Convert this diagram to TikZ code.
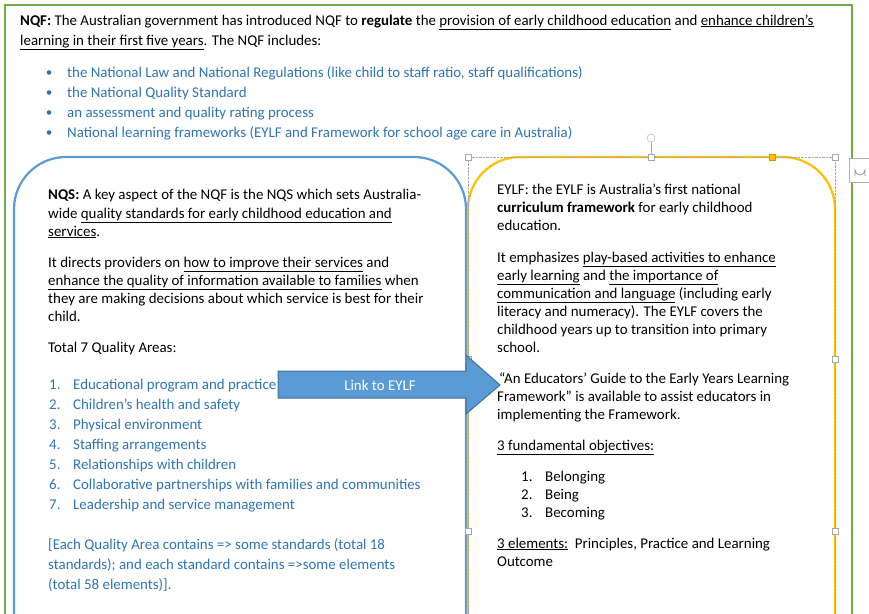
\documentclass[tikz,border=0pt]{standalone}
\usepackage{fontspec}
\setmainfont{Carlito}
\definecolor{tblue}{HTML}{2E74B5}
\definecolor{abox}{HTML}{5B9BD5}
\definecolor{aedge}{HTML}{41719C}
\definecolor{gframe}{HTML}{70AD47}
\definecolor{ybox}{HTML}{FFC000}
\newcommand{\ul}[1]{\underline{#1}}
\begin{document}
\begin{tikzpicture}[x=1pt,y=-1pt,
  t/.style={anchor=base west,inner sep=0pt,font=\fontsize{14.9}{17}\selectfont},
  tb/.style={t,text=tblue},
  hnd/.style={draw=gray!70,fill=white,minimum size=6pt,inner sep=0pt}]
\useasboundingbox (0,0) rectangle (869,613);
\draw[gframe,line width=2pt] (5,620) -- (5,5) -- (852,5) -- (852,620);
% top text
\node[t] (n1) at (20,25) {\textbf{NQF:} The Australian government has introduced NQF to \textbf{regulate} the \ul{provision of early childhood education} and \ul{enhance children’s}};
\node[t] (n2) at (20,45) {\ul{learning in their first five years}. The NQF includes:};
\foreach \y/\s [count=\i] in {77/{the National Law and National Regulations (like child to staff ratio, staff qualifications)},97/{the National Quality Standard},117/{an assessment and quality rating process},137/{National learning frameworks (EYLF and Framework for school age care in Australia)}}{
  \node[tb] (b\i) at (67,\y) {\s};
  \fill[tblue] (49,\y-4.5) circle (2.3);
}
% boxes
\draw[abox,line width=2.2pt,rounded corners=52] (14,625) -- (14,157) -- (466,157) -- (466,625);
\draw[ybox,line width=2.2pt,rounded corners=52] (468,625) -- (468,157) -- (835,157) -- (835,625);
% selection
\draw[gray!70,densely dotted] (468,157) rectangle (835,625);
\draw[gray!70] (651,157) -- (651,142);
\draw[gray!70,fill=white] (651,138) circle (4);
\foreach \p [count=\i] in {(468,157),(651,157),(835,157),(468,359),(835,359),(468,531),(835,531)}
  \node[hnd] (h\i) at \p {};
\node[draw=ybox!80!black,fill=ybox,minimum size=6pt,inner sep=0pt] (yh) at (772,157) {};
\node[draw=gray!60,fill=white,minimum width=22pt,minimum height=24pt,anchor=north west] (lay) at (849,158) {};
\draw[gray!80,thick] (855,176) -- (855,170) arc (180:0:5) -- (865,176);
% left text
\node[t] (l1) at (48,199) {\textbf{NQS:} A key aspect of the NQF is the NQS which sets Australia-};
\node[t] (l2) at (48,218) {wide \ul{quality standards for early childhood education and}};
\node[t] (l3) at (48,236) {\ul{services}.};
\node[t] (l4) at (48,267) {It directs providers on \ul{how to improve their services} and};
\node[t] (l5) at (48,285) {\ul{enhance the quality of information available to families} when};
\node[t] (l6) at (48,303) {they are making decisions about which service is best for their};
\node[t] (l7) at (48,321) {child.};
\node[t] (l8) at (48,352) {Total 7 Quality Areas:};
\foreach \s [count=\i] in {Educational program and practice,Children’s health and safety,Physical environment,Staffing arrangements,Relationships with children,Collaborative partnerships with families and communities,Leadership and service management}{
  \node[tb] (q\i) at (73,369+20*\i) {\s};
  \node[tb] (qn\i) at (49,369+20*\i) {\i.};
}
\node[tb] (c1) at (48,549) {[Each Quality Area contains => some standards (total 18};
\node[tb] (c2) at (48,569) {standards); and each standard contains =>some elements};
\node[tb] (c3) at (48,589) {(total 58 elements)].};
% right text
\node[t] (r1) at (497,194) {EYLF: the EYLF is Australia’s first national};
\node[t] (r2) at (497,212) {\textbf{curriculum framework} for early childhood};
\node[t] (r3) at (497,230) {education.};
\node[t] (r4) at (497,262) {It emphasizes \ul{play-based activities to enhance}};
\node[t] (r5) at (497,280) {\ul{early learning} and \ul{the importance of}};
\node[t] (r6) at (497,298) {\ul{communication and language} (including early};
\node[t] (r7) at (497,316) {literacy and numeracy). The EYLF covers the};
\node[t] (r8) at (497,334) {childhood years up to transition into primary};
\node[t] (r9) at (497,352) {school.};
\node[t] (r10) at (499,383) {“An Educators’ Guide to the Early Years Learning};
\node[t] (r11) at (497,401) {Framework” is available to assist educators in};
\node[t] (r12) at (497,419) {implementing the Framework.};
\node[t] (r13) at (497,450) {\ul{3 fundamental objectives:}};
\foreach \s [count=\i] in {Belonging,Being,Becoming}{
  \node[t] (o\i) at (545,463+18*\i) {\s};
  \node[t] (on\i) at (521,463+18*\i) {\i.};
}
\node[t] (r14) at (497,548) {\ul{3 elements:}\ \ Principles, Practice and Learning};
\node[t] (r15) at (497,566) {Outcome};
% arrow
\draw[aedge,fill=abox,line width=1pt] (278,371) -- (466,371) -- (466,355) -- (500,385) -- (466,414) -- (466,398) -- (278,398) -- cycle;
\node[font=\fontsize{14.9}{17}\selectfont,text=white] (al) at (380,385) {Link to EYLF};
\end{tikzpicture}
\end{document}
